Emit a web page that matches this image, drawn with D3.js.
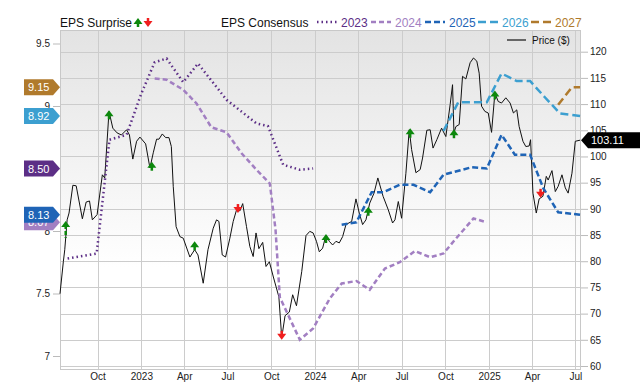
<!DOCTYPE html>
<html>
<head>
<meta charset="utf-8">
<script src="https://cdn.jsdelivr.net/npm/d3@7"></script>
<style>
  body { margin: 0; background: #fff; }
  svg { font-family: Arial, "Liberation Sans", sans-serif; display: block; }
</style>
</head>
<body>
<svg id="chart" width="640" height="382"></svg>
<script>
// ---- data ----
const priceDates = [
  "2022-07-14","2022-07-21","2022-07-24","2022-07-29","2022-08-02","2022-08-10","2022-08-17","2022-08-30",
  "2022-09-07","2022-09-14","2022-09-20","2022-09-30","2022-10-11","2022-10-16","2022-10-25","2022-11-02",
  "2022-11-11","2022-11-20","2022-12-01","2022-12-07","2022-12-14","2022-12-22","2022-12-29","2023-01-10",
  "2023-01-19","2023-01-26","2023-02-02","2023-02-07","2023-02-14","2023-02-21","2023-02-28","2023-03-05",
  "2023-03-09","2023-03-15","2023-03-23","2023-03-30","2023-04-13","2023-04-23","2023-04-30","2023-05-11",
  "2023-05-21","2023-06-01","2023-06-08","2023-06-13","2023-06-20","2023-06-27","2023-07-06","2023-07-13",
  "2023-07-21","2023-07-27","2023-08-02","2023-08-10","2023-08-17","2023-08-24","2023-08-30","2023-09-05",
  "2023-09-13","2023-09-20","2023-09-27","2023-10-06","2023-10-17","2023-10-23","2023-10-30","2023-11-08",
  "2023-11-15","2023-11-23","2023-12-04","2023-12-13","2023-12-21","2023-12-28","2024-01-04","2024-01-10",
  "2024-01-17","2024-01-24","2024-01-31","2024-02-07","2024-02-14","2024-02-21","2024-02-28","2024-03-06",
  "2024-03-18","2024-03-27","2024-04-03","2024-04-10","2024-04-17","2024-04-25","2024-05-04","2024-05-12",
  "2024-05-23","2024-06-03","2024-06-12","2024-06-17","2024-06-24","2024-07-01","2024-07-10","2024-07-17",
  "2024-07-22","2024-07-31","2024-08-09","2024-08-14","2024-08-23","2024-08-30","2024-09-05","2024-09-13",
  "2024-09-23","2024-10-02","2024-10-11","2024-10-16","2024-10-19","2024-10-23","2024-10-30","2024-11-06",
  "2024-11-13","2024-11-22","2024-11-29","2024-12-06","2024-12-11","2024-12-16","2024-12-23","2024-12-30",
  "2025-01-06","2025-01-13","2025-01-20","2025-01-27","2025-02-05","2025-02-14","2025-02-21","2025-02-28",
  "2025-03-05","2025-03-13","2025-03-19","2025-03-26","2025-03-29","2025-04-03","2025-04-10","2025-04-16",
  "2025-04-24","2025-05-01","2025-05-05","2025-05-13","2025-05-20","2025-05-26","2025-06-03","2025-06-10",
  "2025-06-16","2025-06-24","2025-07-01","2025-07-11"
];
const priceValues = [
  73.8, 79.9, 82.2, 87.9, 89.2, 94.5, 94.4, 88.1,
  91.3, 91.5, 87.9, 88.9, 96.5, 95.9, 108.6, 105.4,
  104.5, 104.1, 105.1, 104.1, 99.5, 102.9, 103.7, 102.4,
  97.8, 100.7, 103.3, 103.3, 104.3, 103.6, 103.6, 101.9,
  94.3, 86.6, 84.7, 84.4, 80.8, 82.2, 81.2, 75.8,
  82.2, 86.3, 87.9, 87.6, 81.2, 80.8, 84.4, 87.6,
  90.1, 89.6, 91.0, 86.6, 82.8, 80.9, 85.4, 82.4,
  83.6, 79.0, 79.9, 76.8, 73.2, 65.4, 69.6, 70.3,
  73.6, 71.5, 78.0, 84.9, 85.7, 85.4, 83.8, 81.8,
  82.5, 85.0, 83.8, 83.1, 83.8, 83.5, 84.7, 87.0,
  87.6, 91.9, 89.2, 87.0, 87.9, 91.1, 93.0, 95.9,
  92.4, 89.8, 87.3, 87.9, 91.4, 88.2, 96.8, 105.1,
  101.3, 96.9, 97.5, 99.7, 105.0, 105.1, 101.6, 103.2,
  105.4, 103.8, 109.9, 113.7, 104.5, 105.7, 106.1, 115.3,
  114.8, 117.9, 118.8, 118.2, 115.9, 109.6, 108.6, 108.3,
  104.6, 112.1, 110.5, 110.2, 111.2, 110.2, 108.3, 108.9,
  105.7, 102.9, 101.9, 102.0, 103.2, 93.0, 89.2, 91.9,
  92.4, 96.2, 95.5, 97.3, 93.3, 94.3, 96.5, 94.0,
  93.0, 96.8, 102.9, 103.11
];

// EPS consensus, one pair of arrays per fiscal year
const eps2023Dates = ["2022-07-30","2022-09-29","2022-10-26","2022-12-01","2023-01-01","2023-01-29","2023-02-23","2023-03-30",
  "2023-04-30","2023-06-29","2023-08-31","2023-09-24","2023-10-26","2023-11-30","2023-12-28"];
const eps2023Values = [7.78, 7.82, 8.73, 8.77, 9.10, 9.35, 9.38, 9.19, 9.34, 9.05, 8.86, 8.84, 8.53, 8.49, 8.50];

const eps2024Dates = ["2023-01-29","2023-02-23","2023-03-30","2023-04-27","2023-05-28","2023-06-29","2023-07-31","2023-08-31",
  "2023-09-28","2023-10-10","2023-10-19","2023-11-30","2023-12-28","2024-02-01","2024-02-26","2024-03-28","2024-04-25",
  "2024-05-27","2024-06-27","2024-07-29","2024-08-30","2024-09-27","2024-10-21","2024-11-29","2024-12-27"];
const eps2024Values = [9.22, 9.21, 9.13, 9.02, 8.83, 8.79, 8.62, 8.49, 8.38, 8.01, 7.47, 7.13, 7.22, 7.46, 7.58, 7.60, 7.53,
  7.70, 7.75, 7.84, 7.79, 7.82, 7.93, 8.10, 8.07];

const eps2025Dates = ["2024-02-26","2024-03-28","2024-04-29","2024-05-23","2024-06-27","2024-07-26","2024-08-30","2024-09-27",
  "2024-11-25","2024-12-27","2025-01-27","2025-02-24","2025-03-28","2025-04-25","2025-05-26","2025-07-11"];
const eps2025Values = [8.05, 8.07, 8.31, 8.31, 8.37, 8.37, 8.31, 8.45, 8.51, 8.50, 8.77, 8.61, 8.61, 8.34, 8.15, 8.13];

const eps2026Dates = ["2024-09-27","2024-10-28","2024-12-27","2025-01-27","2025-02-28","2025-03-28","2025-04-28","2025-05-30","2025-07-11"];
const eps2026Values = [8.80, 9.03, 9.03, 9.26, 9.20, 9.20, 9.07, 8.94, 8.92];

const eps2027Dates = ["2025-05-26","2025-06-24","2025-07-11"];
const eps2027Values = [9.01, 9.15, 9.15];

// EPS surprises: date, price where the arrow tip sits, beat/miss
const surpriseDates = ["2022-07-26","2022-10-25","2023-01-23","2023-04-23","2023-07-23","2023-10-23",
  "2024-01-24","2024-04-22","2024-07-19","2024-10-19","2025-01-13","2025-04-19"];
const surprisePrices = [87.7, 108.8, 99.0, 83.8, 89.2, 65.0, 85.2, 90.4, 105.4, 105.2, 112.6, 92.1];
const surpriseBeat = [true, true, true, true, false, false, true, true, true, true, true, false];

const epsTicks = [7, 7.5, 8, 8.5, 9, 9.5];
const priceTicks = [60, 65, 70, 75, 80, 85, 90, 95, 100, 105, 110, 115, 120];
const lastPriceLabel = "103.11";

// ---- layout ----
const plot = { left: 60, right: 581, top: 30, bottom: 370 };
const parse = d3.timeParse("%Y-%m-%d");

const x = d3.scaleTime()
  .domain([parse("2022-07-14"), parse("2025-07-13")])
  .range([plot.left, plot.right]);
const yEps = d3.scaleLinear().domain([7, 9.5]).range([356, 43.5]);
const yPrice = d3.scaleLinear().domain([60, 120]).range([366, 51.7]);

const series = [
  { name: "2024", dates: eps2024Dates, values: eps2024Values, color: "#a27fc2", dash: "5,3" },
  { name: "2025", dates: eps2025Dates, values: eps2025Values, color: "#1f64b6", dash: "6,3" },
  { name: "2023", dates: eps2023Dates, values: eps2023Values, color: "#5c2e86", dash: "1.5,3" },
  { name: "2026", dates: eps2026Dates, values: eps2026Values, color: "#3c9fd0", dash: "8,4" },
  { name: "2027", dates: eps2027Dates, values: eps2027Values, color: "#b07a2c", dash: "8,4" },
];

const svg = d3.select("#chart");

// background gradient
const defs = svg.append("defs");
const grad = defs.append("linearGradient").attr("id", "bg")
  .attr("x1", 0).attr("y1", 0).attr("x2", 0).attr("y2", 1);
grad.append("stop").attr("offset", "0%").attr("stop-color", "#e3e3e3");
grad.append("stop").attr("offset", "70%").attr("stop-color", "#ffffff");
grad.append("stop").attr("offset", "100%").attr("stop-color", "#ffffff");

svg.append("rect")
  .attr("x", plot.left).attr("y", plot.top)
  .attr("width", plot.right - plot.left).attr("height", plot.bottom - plot.top)
  .attr("fill", "url(#bg)");

// grid lines
const grid = svg.append("g").attr("stroke", "#cccccc").attr("stroke-width", 1);
const xTicks = x.ticks(d3.timeMonth.every(3));
grid.selectAll(".vg").data(xTicks).join("line")
  .attr("x1", d => Math.round(x(d)) + 0.5).attr("x2", d => Math.round(x(d)) + 0.5)
  .attr("y1", plot.top).attr("y2", plot.bottom);
grid.selectAll(".hg").data(priceTicks).join("line")
  .attr("x1", plot.left).attr("x2", plot.right)
  .attr("y1", d => Math.round(yPrice(d)) + 0.5).attr("y2", d => Math.round(yPrice(d)) + 0.5);
svg.append("rect")
  .attr("x", plot.left + 0.5).attr("y", plot.top + 0.5)
  .attr("width", plot.right - plot.left - 1).attr("height", plot.bottom - plot.top - 1)
  .attr("fill", "none").attr("stroke", "#c8c8c8");

// axes
const leftAxis = svg.append("g")
  .attr("transform", `translate(${plot.left},0)`)
  .call(d3.axisLeft(yEps).tickValues(epsTicks).tickSize(7).tickPadding(3).tickFormat(d => String(d)));
const rightAxis = svg.append("g")
  .attr("transform", `translate(${plot.right},0)`)
  .call(d3.axisRight(yPrice).tickValues(priceTicks).tickSize(7).tickPadding(2));
const fmtMonth = d3.timeFormat("%b"), fmtYear = d3.timeFormat("%Y");
const bottomAxis = svg.append("g")
  .attr("transform", `translate(0,${plot.bottom})`)
  .call(d3.axisBottom(x).tickValues(xTicks).tickSize(0).tickPadding(3)
    .tickFormat(d => d.getMonth() === 0 ? fmtYear(d) : fmtMonth(d)));
[leftAxis, rightAxis, bottomAxis].forEach(g => {
  g.select(".domain").remove();
  g.selectAll(".tick line").attr("stroke", "#bbbbbb");
  g.selectAll("text").attr("fill", "#222").style("font-size", "10px")
    .style("font-family", "Arial, 'Liberation Sans', sans-serif");
});

// price line
const priceData = priceDates.map((d, i) => ({ date: parse(d), value: priceValues[i] }));
svg.append("path")
  .datum(priceData)
  .attr("fill", "none").attr("stroke", "#111").attr("stroke-width", 1)
  .attr("d", d3.line().x(d => x(d.date)).y(d => yPrice(d.value)));

// EPS consensus lines
const epsLine = d3.line().x(d => x(d.date)).y(d => yEps(d.value));
series.forEach(s => {
  s.data = s.dates.map((d, i) => ({ date: parse(d), value: s.values[i] }));
  svg.append("path")
    .datum(s.data)
    .attr("fill", "none")
    .attr("stroke", s.color)
    .attr("stroke-width", 2.5)
    .attr("stroke-dasharray", s.dash)
    .attr("d", epsLine);
});

// surprise arrows
const bis = d3.bisector(d => d.date).left;
function priceAt(date) {
  const i = Math.max(1, Math.min(priceData.length - 1, bis(priceData, date)));
  const a = priceData[i - 1], b = priceData[i];
  const t = (date - a.date) / (b.date - a.date);
  return a.value + (b.value - a.value) * t;
}
function drawArrow(g, cx, cy, up, color, shaft) {
  const dir = up ? 1 : -1;
  g.append("line")
    .attr("x1", cx).attr("x2", cx)
    .attr("y1", cy + dir * 4).attr("y2", cy + dir * (5 + shaft))
    .attr("stroke", color).attr("stroke-width", 2.5)
    .attr("stroke-dasharray", shaft > 8 ? "4,2" : null);
  g.append("path")
    .attr("d", `M${cx},${cy} L${cx + 4.5},${cy + dir * 6} L${cx - 4.5},${cy + dir * 6} Z`)
    .attr("fill", color);
}
const arrows = svg.append("g");
surpriseDates.forEach((d, i) => {
  const date = parse(d);
  const cx = x(date), cy = yPrice(surprisePrices[i]);
  const up = surpriseBeat[i];
  const lineY = yPrice(priceAt(date));
  const shaft = up ? Math.max(4, lineY - cy - 5) : 4;
  drawArrow(arrows, cx, cy, up, up ? "#0c880c" : "#f01e1e", shaft);
});

// last value flags on the left
series.forEach(s => {
  const last = s.values[s.values.length - 1];
  const y = yEps(last);
  const g = svg.append("g");
  g.append("path")
    .attr("d", `M24,${y - 8} H53 L60,${y} L53,${y + 8} H24 Z`)
    .attr("fill", s.color);
  g.append("text")
    .attr("x", 28).attr("y", y + 4)
    .attr("fill", "#fff").style("font-size", "11px")
    .text(last.toFixed(2));
});

// last price flag on the right
const lastY = yPrice(priceValues[priceValues.length - 1]);
svg.append("path")
  .attr("d", `M${plot.right},${lastY} L${plot.right + 7},${lastY - 8} H640 V${lastY + 8} H${plot.right + 7} Z`)
  .attr("fill", "#000");
svg.append("text")
  .attr("x", plot.right + 10).attr("y", lastY + 4)
  .attr("fill", "#fff").style("font-size", "11px")
  .text(lastPriceLabel);

// legend
const legend = svg.append("g").style("font-size", "12px");
legend.append("text").attr("x", 60).attr("y", 27).attr("fill", "#111").text("EPS Surprise");
drawArrow(legend, 138, 18, true, "#0c880c", 4);
drawArrow(legend, 148, 27, false, "#f01e1e", 4);
legend.append("text").attr("x", 221).attr("y", 27).attr("fill", "#111").text("EPS Consensus");

const legendOrder = ["2023", "2024", "2025", "2026", "2027"];
const legendX = [317, 371, 425, 478, 531];
legendOrder.forEach((name, i) => {
  const s = series.find(d => d.name === name);
  legend.append("line")
    .attr("x1", legendX[i]).attr("x2", legendX[i] + 20)
    .attr("y1", 22).attr("y2", 22)
    .attr("stroke", s.color).attr("stroke-width", 2.5)
    .attr("stroke-dasharray", s.dash);
  legend.append("text")
    .attr("x", legendX[i] + 24).attr("y", 27)
    .attr("fill", s.color).text(name);
});

// price legend inside the plot
svg.append("line")
  .attr("x1", 507).attr("x2", 526).attr("y1", 40).attr("y2", 40)
  .attr("stroke", "#666").attr("stroke-width", 2);
svg.append("text")
  .attr("x", 532).attr("y", 44)
  .attr("fill", "#111").style("font-size", "10px")
  .text("Price ($)");
</script>
</body>
</html>
